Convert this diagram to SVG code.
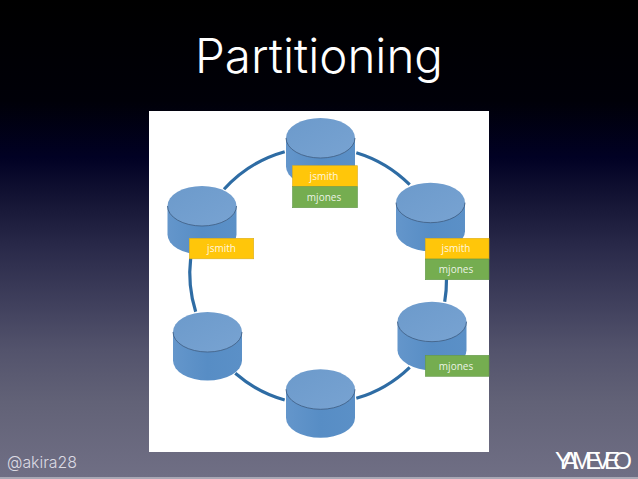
<svg xmlns="http://www.w3.org/2000/svg" width="638" height="479" viewBox="0 0 638 479">
<style>
.title{font-family:Inter,"Liberation Sans",Arial,sans-serif;font-weight:300;font-size:48px;fill:#fff}
.lab{font-family:"Open Sans","Liberation Sans",sans-serif;font-size:10px;fill:#fff;fill-opacity:.88;text-anchor:middle}
.y{fill:#ffc60a;stroke:#dcae1c;stroke-width:.6}
.g{fill:#75ad50;stroke:#64984a;stroke-width:.6}
.ring{fill:none;stroke:#2e6ca4;stroke-width:3.2}
.body{fill:url(#cyl)}
.top{fill:url(#lid)}
.rim{fill:none;stroke:#3d5c80;stroke-width:.8}
</style>
<defs>
<linearGradient id="bg" x1="0" y1="0" x2="0" y2="1">
<stop offset="0" stop-color="#000"/><stop offset=".21" stop-color="#000008"/><stop offset=".33" stop-color="#010124"/><stop offset=".42" stop-color="#151535"/><stop offset=".52" stop-color="#2a2a4a"/><stop offset=".63" stop-color="#3f3f5c"/><stop offset=".73" stop-color="#53536c"/><stop offset=".84" stop-color="#626277"/><stop offset="1" stop-color="#706f85"/>
</linearGradient>
<linearGradient id="cyl" x1="0" y1="0" x2="1" y2="0">
<stop offset="0" stop-color="#6496cb"/><stop offset=".5" stop-color="#578dc5"/><stop offset="1" stop-color="#5b90c7"/>
</linearGradient>
<linearGradient id="lid" x1="0" y1="0" x2="1" y2="1">
<stop offset="0" stop-color="#6c9acb"/><stop offset="1" stop-color="#78a3d2"/>
</linearGradient>
<g id="db">
<path class="body" d="M-34.500 20V48.500A34.500 20 0 0 0 34.500 48.500V20Z"/>
<ellipse class="top" cx="0" cy="20" rx="34.500" ry="20"/>
<path class="rim" d="M-34.500 20A34.500 20 0 0 0 34.500 20"/>
</g>
</defs>
<rect width="638" height="479" fill="url(#bg)"/>
<rect y="477" width="638" height="2" fill="#a9a8b5"/>
<text class="title" x="195" y="73" textLength="248" lengthAdjust="spacingAndGlyphs">Partitioning</text>
<rect x="149" y="111" width="340" height="341" fill="#fff"/>
<g id="connectors">
<path class="ring" d="M284.700 151.700A128 128 0 0 0 224 189.300"/>
<path class="ring" d="M356.300 152.700A128 128 0 0 1 409.700 184.700"/>
<path class="ring" d="M446.500 279A128 128 0 0 1 444.700 301.700"/>
<path class="ring" d="M409.700 367.300A128 128 0 0 1 356.300 398.300"/>
<path class="ring" d="M284.700 400A128 128 0 0 1 235.300 373.300"/>
<path class="ring" d="M195.700 311.700A128 128 0 0 1 190.700 258"/>
</g>
<g id="node-top"><use href="#db" x="320.500" y="118"/>
<rect class="y" x="292.500" y="165.700" width="65" height="21"/><text class="lab" x="324" y="179.500">jsmith</text>
<rect class="g" x="292.500" y="186.700" width="65" height="21"/><text class="lab" x="324" y="201">mjones</text></g>
<g id="node-right-upper"><use href="#db" x="430.500" y="182.700"/>
<rect class="y" x="425.300" y="238.300" width="63.700" height="20.700"/><text class="lab" x="456" y="252">jsmith</text>
<rect class="g" x="425.300" y="259" width="63.700" height="20.700"/><text class="lab" x="456" y="273">mjones</text></g>
<g id="node-right-lower"><use href="#db" x="432" y="301.700"/>
<rect class="g" x="425.300" y="355.300" width="63.700" height="21"/><text class="lab" x="456" y="370">mjones</text></g>
<g id="node-bottom"><use href="#db" x="320.500" y="369.300"/></g>
<g id="node-left-lower"><use href="#db" x="207.500" y="312"/></g>
<g id="node-left-upper"><use href="#db" x="202" y="186"/>
<rect class="y" x="189.300" y="238.300" width="64.400" height="20.500"/><text class="lab" x="221.500" y="252">jsmith</text></g>
<text x="7" y="468" font-family="Inter,'Liberation Sans',Arial,sans-serif" font-weight="300" font-size="16.500" fill="#dcdbe4" textLength="70" lengthAdjust="spacingAndGlyphs">@akira28</text>
<text x="555" y="469" font-family="'Liberation Sans',Arial,sans-serif" font-size="24" fill="#fff" textLength="77" lengthAdjust="spacing">YAMEVEO</text>
</svg>
